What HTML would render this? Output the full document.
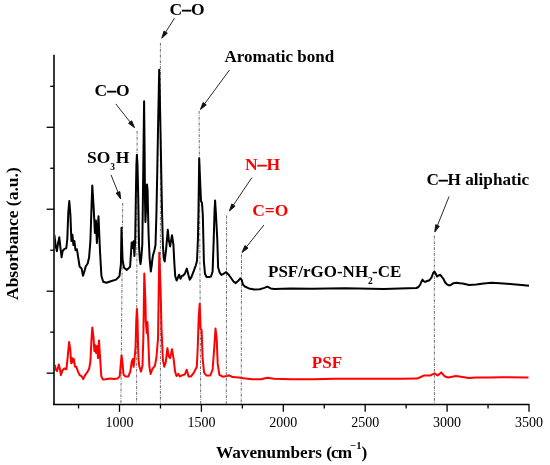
<!DOCTYPE html>
<html><head><meta charset="utf-8"><style>
html,body{margin:0;padding:0;background:#fff;}
body{width:550px;height:465px;overflow:hidden;}
svg{display:block;}
text{font-family:"Liberation Serif","Times New Roman",serif;}
.b{font-weight:bold;}
</style></head><body>
<svg width="550" height="465" viewBox="0 0 550 465">
<rect width="550" height="465" fill="#fff"/>
<g stroke="#626262" stroke-width="0.95" stroke-dasharray="2.8 1.1 0.7 1.2" fill="none"><line x1="122.7" y1="203" x2="120.9" y2="403.7"/><line x1="137.1" y1="131" x2="136.6" y2="403.7"/><line x1="160.4" y1="43" x2="160.4" y2="403.7"/><line x1="199.1" y1="111" x2="200.7" y2="403.7"/><line x1="226.6" y1="215.5" x2="226.3" y2="403.7"/><line x1="241.5" y1="254.5" x2="241.2" y2="403.7"/><line x1="434.3" y1="235.6" x2="434.4" y2="403.7"/></g>
<polyline fill="none" stroke="#000" stroke-width="2" stroke-linejoin="round" points="54.4,234.9 55.7,246 56.9,251.2 58.1,243 59.3,237.3 60.6,249.2 61.6,257.3 62.6,251.2 64.2,249.2 66.3,248.2 67.3,239 68.3,212.4 69.3,201 70.4,214.5 71.4,241 72.4,234.7 73.4,245.1 74.4,241 75.5,250.2 76.9,249.2 78.5,259.4 79.6,266.5 81.6,268.6 83,275.7 84,272.7 85.7,266.5 87.7,263.5 89.1,257.3 90.4,241 91.4,210.4 92.3,185.5 93.8,210.4 94.9,232.9 95.9,220.4 96.9,243 98.5,216.3 100,251.2 101.4,275.7 103.2,281.7 106.5,282.8 110.8,281.3 116.1,279.6 119.4,276.3 120.9,264.5 121.5,227.7 122.6,260 124,267.7 126.9,269.9 130.1,266.7 131.7,242.4 132.6,248 133.5,241.3 134.4,256 135.2,240 135.8,200 136.4,165 136.9,154.8 137.5,165 138.3,200 139,245 139.7,258 140.5,264 141.3,258 142.3,244.5 142.9,200 143.5,150 144.1,101.2 144.6,150 145,200 145.4,222 145.9,212 146.4,190 147,184.4 147.6,190 148.1,215 148.6,235 149.6,258 150.8,271.5 151.9,264 152,262 152.9,255.8 154.5,250 155.5,245 156.4,215 157.3,170 158,130 158.7,95 159.2,69.8 159.8,95 160.5,130 161.2,170 162,210 162.9,245 163.7,258 164.7,261.5 166.2,248.4 167.8,229.8 168.9,240.6 170.1,246.4 172,235.2 173.4,244.5 174.4,263.9 175.2,276 176.6,280.5 177.7,278.2 179.1,274.7 180.5,278.7 181.8,276 183.2,275.5 184.8,273.8 186.8,268.6 188.1,273.8 189.7,279.8 191.4,277.1 193.5,271.6 195.7,265.6 197,261 197.9,240 198.5,210 199.2,158.3 200.3,185 201,201 202,203 202.8,215 203.4,240 203.9,261.8 205,273.8 206.6,277.1 208.8,277.1 211,276.5 212.6,271.6 213.7,240 214.5,212 215.1,200.6 216,215 217.3,240 218.1,267.3 219.7,272.7 221.4,274.9 223.5,273.8 226.1,272.2 228.3,274.2 230.7,277.5 233.5,281.5 235.7,283.1 238,281.1 240.3,278.4 241.8,280.2 243,284.7 244.8,286.5 248.9,288.4 254.4,289.5 259.8,289.3 264.4,287.9 267.3,286.7 270.7,288.4 274.4,289.1 290.5,288.6 312.3,288.8 345,288.2 383.6,289 416.4,288 418.5,287 420.3,284.5 421.5,281.5 422.5,279.6 423.6,281.2 425.1,281.9 427.3,281 429.5,280.2 431.5,277.5 433.2,273 434.4,271.6 435.6,273.5 437.1,276.5 438.6,275.5 440.2,274.8 441.6,276.5 443.6,279.2 445.2,282.5 446.9,284.3 448.5,285.2 450.2,285.3 452,284.2 453.5,283.2 456.5,282.8 460,283.3 462.7,283.6 469,285 476.4,284.5 483.6,283.6 491.8,282.7 500,283.3 512.7,284.2 521.8,285 529,285.8"/>
<polyline fill="none" stroke="#f00" stroke-width="2" stroke-linejoin="round" points="54.9,365 55.7,369.3 57.1,371 58.8,364.4 60,369.3 60.9,375 62.6,370.2 64.3,368.5 66.4,369.3 67.75,356.4 69.1,342.1 70.3,349.5 71.2,363.3 72,358.1 72.9,362.4 73.8,359 75,366.7 76.3,366.7 78.1,371.9 79.8,375.3 81.5,376.2 83.2,379.1 85,375.3 87.5,371.9 89.2,368.5 90.4,361.6 91.5,339.2 92.3,327.6 93.5,337.5 94.4,351.3 95.3,345.2 96.1,353 97.3,346 98,358.1 99,340.4 100.1,358.1 101.3,376.2 103,379.6 105.6,379.3 110,378.4 113.9,379 117.7,378.4 119.7,376.4 120.8,363.9 121.6,355.4 122.6,363.9 123.5,374.5 125.5,376.4 128.4,376.4 130.3,371.6 131.7,361.9 132.8,359 133.6,366.8 134.4,360 135.5,348 136.3,320 136.9,308.9 137.5,320 138.1,348 138.8,363 139.4,366.8 141,371.6 142.5,365.8 143.3,338.7 144.3,273.6 145.4,300 145.8,321.3 146.8,332.9 147.4,322.1 148.3,340.6 149.3,365.8 150.6,373.9 152.6,368.7 154.9,365.8 156.4,358 158,338.7 159.3,252.8 160.6,290 161.5,329 162.9,360 164.3,366.8 165.8,361.9 167.4,348.2 168.7,356.1 170.1,358.1 172,349.2 173.5,358.1 175.1,371.6 176.5,376 178.4,373.9 179.9,376.4 182.3,375.1 184.8,374.5 186.7,369.7 188.6,376.4 191,376.4 193.9,372.6 196.8,366.8 197.7,348.4 198.7,317.4 199.7,303.7 200.6,329 201.6,330 202.6,358.1 204.1,372.6 206.4,375.5 210.3,375.5 212.6,369.7 214.2,348.4 215.5,328.5 216.7,338.7 217.7,363.9 219.4,374.9 222.6,376.7 227,376 229.2,375.3 232.5,377.1 239,377.5 243.4,378.2 252.1,379.3 260.8,379.3 267.4,377.7 273.9,378.8 291.4,379.3 313.2,379.3 335,378.8 400,378.8 417,378.6 420.8,377 424.2,375.4 430.5,375.4 434.4,373.4 437.7,375.4 441.2,372.4 444.5,376.2 448.3,377.5 456,376 461,376.7 468.7,378 476.3,377.5 489,377.5 501.8,377.2 528.5,377.5"/>
<g stroke="#000" stroke-width="1.3" fill="none">
<line x1="54.0" y1="54.7" x2="54.0" y2="404.5" stroke="#383838" stroke-width="2"/>
<line x1="53.0" y1="404.5" x2="529.4" y2="404.5" stroke-width="1.5"/>
<line x1="78.55" y1="404.5" x2="78.55" y2="408.5"/><line x1="119.50" y1="404.5" x2="119.50" y2="411.8"/><line x1="160.45" y1="404.5" x2="160.45" y2="408.5"/><line x1="201.40" y1="404.5" x2="201.40" y2="411.8"/><line x1="242.35" y1="404.5" x2="242.35" y2="408.5"/><line x1="283.30" y1="404.5" x2="283.30" y2="411.8"/><line x1="324.25" y1="404.5" x2="324.25" y2="408.5"/><line x1="365.20" y1="404.5" x2="365.20" y2="411.8"/><line x1="406.15" y1="404.5" x2="406.15" y2="408.5"/><line x1="447.10" y1="404.5" x2="447.10" y2="411.8"/><line x1="488.05" y1="404.5" x2="488.05" y2="408.5"/><line x1="529.00" y1="404.5" x2="529.00" y2="411.8"/><line x1="50.2" y1="86.3" x2="54.0" y2="86.3"/><line x1="46.6" y1="127.28" x2="54.0" y2="127.28"/><line x1="50.2" y1="168.26" x2="54.0" y2="168.26"/><line x1="46.6" y1="209.24" x2="54.0" y2="209.24"/><line x1="50.2" y1="250.22" x2="54.0" y2="250.22"/><line x1="46.6" y1="291.2" x2="54.0" y2="291.2"/><line x1="50.2" y1="332.18" x2="54.0" y2="332.18"/><line x1="46.6" y1="373.16" x2="54.0" y2="373.16"/>
</g>
<g stroke="#111" stroke-width="0.9" fill="#111"><line x1="174.5" y1="18.2" x2="165.66" y2="32.12"/><polygon points="161.8,38.2 163.97,31.05 167.35,33.19"/><line x1="115.8" y1="103.9" x2="130.14" y2="122.05"/><polygon points="134.6,127.7 128.57,123.29 131.71,120.81"/><line x1="111" y1="174.8" x2="118.02" y2="192.32"/><polygon points="120.7,199 116.16,193.06 119.88,191.57"/><line x1="229.5" y1="70" x2="204.67" y2="103.70"/><polygon points="200.4,109.5 203.06,102.52 206.28,104.89"/><line x1="251.9" y1="177.6" x2="233.42" y2="205.03"/><polygon points="229.4,211 231.76,203.91 235.08,206.15"/><line x1="263.9" y1="225" x2="246.49" y2="246.87"/><polygon points="242,252.5 244.92,245.62 248.05,248.11"/><line x1="449" y1="196.6" x2="437.47" y2="225.41"/><polygon points="434.8,232.1 435.62,224.67 439.33,226.16"/></g>
<g font-size="14" text-anchor="middle" fill="#000"><text x="119.5" y="427">1000</text><text x="201.4" y="427">1500</text><text x="283.3" y="427">2000</text><text x="365.2" y="427">2500</text><text x="447.1" y="427">3000</text><text x="529.0" y="427">3500</text></g>
<g class="b" font-size="17.5" fill="#000">
<text x="169.5" y="15">C<tspan stroke="currentColor" stroke-width="0.55">–</tspan>O</text>
<text x="94.5" y="95.8">C<tspan stroke="currentColor" stroke-width="0.55">–</tspan>O</text>
<text x="87" y="162.8">SO<tspan font-size="9.5" dy="7.3">3</tspan><tspan dy="-7.3" dx="0.6">H</tspan></text>
<text x="224.5" y="61.6" font-size="17">Aromatic bond</text>
<text x="426.5" y="184.8" font-size="17.2">C<tspan stroke="currentColor" stroke-width="0.55">–</tspan>H aliphatic</text>
<text x="268" y="277" font-size="17">PSF/rGO-NH<tspan font-size="9.5" dy="6.8">2</tspan><tspan dy="-6.8" dx="-0.8">-CE</tspan></text>
</g>
<g class="b" font-size="17.5" fill="#f00" style="color:#f00">
<text x="245" y="169.7">N<tspan stroke="currentColor" stroke-width="0.55">–</tspan>H</text>
<text x="252.2" y="216.3">C=O</text>
<text x="311.8" y="368.3" font-size="17">PSF</text>
</g>
<text class="b" x="216" y="458" font-size="17.2">Wavenumbers <tspan letter-spacing="-0.9">(cm</tspan><tspan font-size="10.5" dy="-9.3" dx="-1">−1</tspan><tspan dy="9.3" dx="-0.1">)</tspan></text>
<text class="b" transform="translate(17.5,300) rotate(-90)" font-size="17.5">Absorbance (a.u.)</text>
</svg>
</body></html>
